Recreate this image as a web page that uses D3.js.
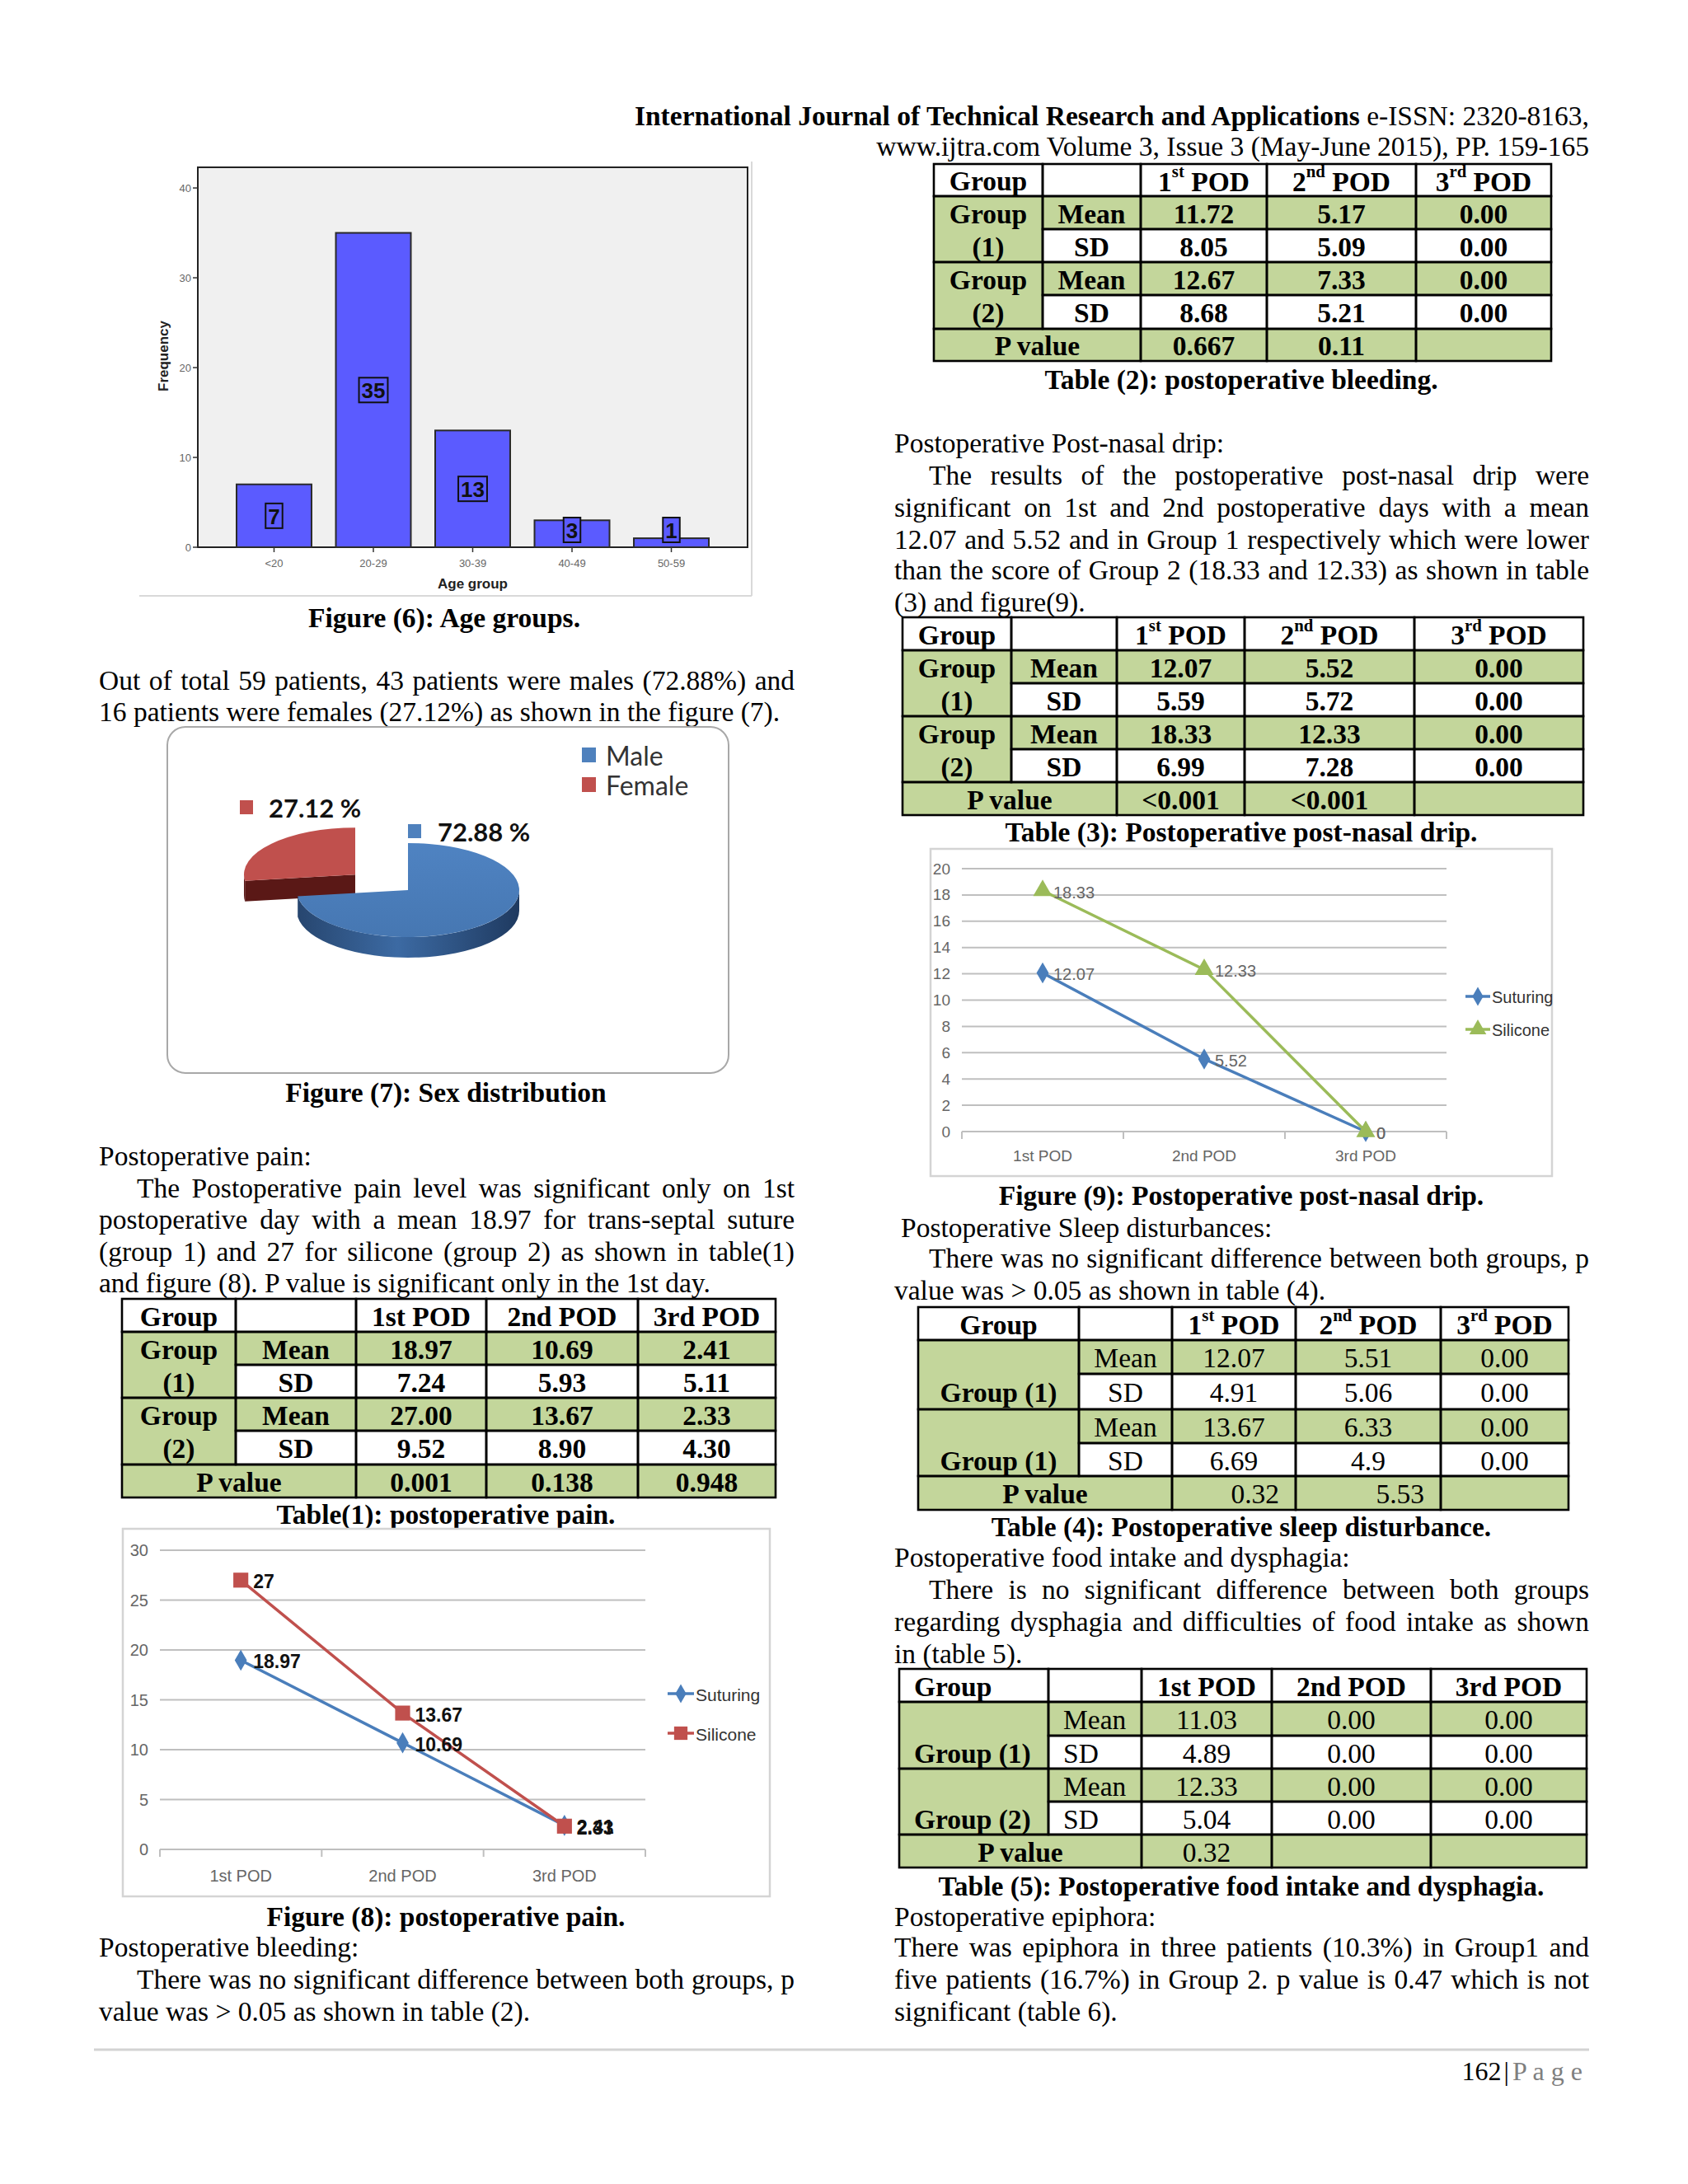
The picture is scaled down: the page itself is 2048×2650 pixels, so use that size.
<!DOCTYPE html>
<html><head><meta charset="utf-8">
<script src="https://cdn.jsdelivr.net/npm/d3@7/dist/d3.min.js"></script>
<style>html,body{margin:0;padding:0;background:#fff;}svg{display:block;}</style>
</head><body>
<svg id="page" width="2048" height="2650"></svg>
<script>
// ---------------- DATA ----------------
const ageGroups = ["<20", "20-29", "30-39", "40-49", "50-59"];
const ageFrequency = [7, 35, 13, 3, 1];
const frequencyTicks = [0, 10, 20, 30, 40];

const sexCategories = ["Male", "Female"];
const sexPercent = [72.88, 27.12];

const podCategories = ["1st POD", "2nd POD", "3rd POD"];
const seriesNames = ["Suturing", "Silicone"];
const painSuturing = [18.97, 10.69, 2.41];
const painSilicone = [27, 13.67, 2.33];
const painTicks = [0, 5, 10, 15, 20, 25, 30];
const dripSuturing = [12.07, 5.52, 0];
const dripSilicone = [18.33, 12.33, 0];
const dripTicks = [0, 2, 4, 6, 8, 10, 12, 14, 16, 18, 20];

const groupNumbers = ["(1)", "(2)"];
const statLabels = ["Mean", "SD"];
const podPlainHeaders = ["1st POD", "2nd POD", "3rd POD"];
const podSupHeaders = [["1", "st"], ["2", "nd"], ["3", "rd"]];

const painMean1 = ["18.97", "10.69", "2.41"], painSD1 = ["7.24", "5.93", "5.11"];
const painMean2 = ["27.00", "13.67", "2.33"], painSD2 = ["9.52", "8.90", "4.30"];
const painP = ["0.001", "0.138", "0.948"];
const bleedMean1 = ["11.72", "5.17", "0.00"], bleedSD1 = ["8.05", "5.09", "0.00"];
const bleedMean2 = ["12.67", "7.33", "0.00"], bleedSD2 = ["8.68", "5.21", "0.00"];
const bleedP = ["0.667", "0.11", ""];
const dripMean1 = ["12.07", "5.52", "0.00"], dripSD1 = ["5.59", "5.72", "0.00"];
const dripMean2 = ["18.33", "12.33", "0.00"], dripSD2 = ["6.99", "7.28", "0.00"];
const dripP = ["<0.001", "<0.001", ""];
const sleepGroups = ["Group (1)", "Group (1)"];
const sleepMean1 = ["12.07", "5.51", "0.00"], sleepSD1 = ["4.91", "5.06", "0.00"];
const sleepMean2 = ["13.67", "6.33", "0.00"], sleepSD2 = ["6.69", "4.9", "0.00"];
const sleepP = ["0.32", "5.53", ""];
const foodGroups = ["Group (1)", "Group (2)"];
const foodMean1 = ["11.03", "0.00", "0.00"], foodSD1 = ["4.89", "0.00", "0.00"];
const foodMean2 = ["12.33", "0.00", "0.00"], foodSD2 = ["5.04", "0.00", "0.00"];
const foodP = ["0.32", "", ""];

// ---------------- SETUP ----------------
const svg = d3.select("#page");
svg.append("rect").attr("width", 2048).attr("height", 2650).attr("fill", "#fff");
const SERIF = "'Liberation Serif','Times New Roman',serif";
const SANS = "'Liberation Sans',Arial,sans-serif";
const NARROW = "'Liberation Sans Narrow','Liberation Sans',Arial,sans-serif";
const CAL = "Lato,'Open Sans',sans-serif";
const FS = 33.5;
const GREEN = "#c3d69b";
const WHITE = "#ffffff";

function addText(parent, x, y, content, o = {}) {
  const size = o.size || FS;
  const t = parent.append("text")
    .attr("x", x).attr("y", y)
    .attr("font-family", o.family || SERIF)
    .attr("font-size", size)
    .attr("font-weight", o.bold ? "bold" : "normal")
    .attr("fill", o.fill || "#000")
    .attr("text-anchor", o.anchor || "start")
    .attr("dominant-baseline", "central");
  if (Array.isArray(content)) {
    content.forEach(p => {
      const s = t.append("tspan").text(p.t);
      if (p.sup) s.attr("font-size", size * 0.62).attr("dy", -size * 0.36);
      if (p.after) s.attr("dy", size * 0.36);
      if (p.fill) s.attr("fill", p.fill);
      if (p.bold !== undefined) s.attr("font-weight", p.bold ? "bold" : "normal");
      if (p.dx) s.attr("dx", p.dx);
    });
  } else {
    t.text(content);
  }
  if (o.justify && typeof content === "string") {
    const L = t.node().getComputedTextLength();
    const n = (content.match(/ /g) || []).length;
    if (n) t.attr("word-spacing", ((o.justify - x) - L) / n);
  }
  return t;
}

// ---------------- HEADER ----------------
addText(svg, 1928, 140, [
  {t: "International Journal of Technical Research and Applications", bold: true},
  {t: " e-ISSN: 2320-8163,", bold: false}
], {anchor: "end"});
addText(svg, 1928, 177, "www.ijtra.com Volume 3, Issue 3 (May-June 2015), PP. 159-165", {anchor: "end"});

// ---------------- BODY TEXT ----------------
const LR = 964, RR = 1928;
const bodyLines = [
  [120, 825, "Out of total 59 patients, 43 patients were males (72.88%) and", LR],
  [120, 863, "16 patients were females (27.12%) as shown in the figure (7).", 0],
  [120, 1402, "Postoperative pain:", 0],
  [166, 1441, "The Postoperative pain level was significant only on 1st", LR],
  [120, 1479, "postoperative day with a mean 18.97 for trans-septal suture", LR],
  [120, 1518, "(group 1) and 27 for silicone (group 2) as shown in table(1)", LR],
  [120, 1556, "and figure (8). P value is significant only in the 1st day.", 0],
  [120, 2362, "Postoperative bleeding:", 0],
  [166, 2401, "There was no significant difference between both groups, p", LR],
  [120, 2440, "value was > 0.05 as shown in table (2).", 0],
  [1085, 537, "Postoperative Post-nasal drip:", 0],
  [1127, 576, "The results of the postoperative post-nasal drip were", RR],
  [1085, 615, "significant on 1st and 2nd postoperative days with a mean", RR],
  [1085, 654, "12.07 and 5.52 and in Group 1 respectively which were lower", RR],
  [1085, 691, "than the score of Group 2 (18.33 and 12.33) as shown in table", RR],
  [1085, 730, "(3) and figure(9).", 0],
  [1093, 1489, "Postoperative Sleep disturbances:", 0],
  [1127, 1526, "There was no significant difference between both groups, p", RR],
  [1085, 1565, "value was > 0.05 as shown in table (4).", 0],
  [1085, 1889, "Postoperative food intake and dysphagia:", 0],
  [1127, 1928, "There is no significant difference between both groups", RR],
  [1085, 1967, "regarding dysphagia and difficulties of food intake as shown", RR],
  [1085, 2006, "in (table 5).", 0],
  [1085, 2325, "Postoperative epiphora:", 0],
  [1085, 2362, "There was epiphora in three patients (10.3%) in Group1 and", RR],
  [1085, 2401, "five patients (16.7%) in Group 2. p value is 0.47 which is not", RR],
  [1085, 2440, "significant (table 6).", 0]
];
bodyLines.forEach(([x, y, s, j]) => addText(svg, x, y, s, {justify: j || null}));

const captions = [
  [539, 749, "Figure (6): Age groups."],
  [541, 1325, "Figure (7): Sex distribution"],
  [541, 1837, "Table(1): postoperative pain."],
  [541, 2325, "Figure (8): postoperative pain."],
  [1506, 460, "Table (2): postoperative bleeding."],
  [1506, 1009, "Table (3): Postoperative post-nasal drip."],
  [1506, 1450, "Figure (9): Postoperative post-nasal drip."],
  [1506, 1852, "Table (4): Postoperative sleep disturbance."],
  [1506, 2288, "Table (5): Postoperative food intake and dysphagia."]
];
captions.forEach(([x, y, s]) => addText(svg, x, y, s, {bold: true, anchor: "middle"}));

// ---------------- FOOTER ----------------
svg.append("line").attr("x1", 114).attr("x2", 1928).attr("y1", 2487).attr("y2", 2487)
  .attr("stroke", "#d3d3d3").attr("stroke-width", 3);
addText(svg, 1920, 2513, [
  {t: "162"}, {t: "|", dx: 3}, {t: "P a g e", fill: "#7f7f7f", dx: 4}
], {anchor: "end", size: 32});

// ---------------- FIGURE 6: BAR CHART ----------------
(function () {
  const g = svg.append("g");
  g.append("line").attr("x1", 169).attr("x2", 912).attr("y1", 723).attr("y2", 723).attr("stroke", "#d9d9d9").attr("stroke-width", 2);
  g.append("line").attr("x1", 912).attr("x2", 912).attr("y1", 196).attr("y2", 723).attr("stroke", "#d9d9d9").attr("stroke-width", 2);
  const X0 = 240, X1 = 907, Y0 = 664, Y1 = 203;
  g.append("rect").attr("x", X0).attr("y", Y1).attr("width", X1 - X0).attr("height", Y0 - Y1)
    .attr("fill", "#f0f0f0").attr("stroke", "#222").attr("stroke-width", 2);
  const x = d3.scaleBand().domain(ageGroups).range([X0, X1]).paddingInner(0.245).paddingOuter(0.39);
  const y = d3.scaleLinear().domain([0, 42.3]).range([Y0, Y1]);
  g.selectAll(".yt").data(frequencyTicks).join("line")
    .attr("x1", X0 - 6).attr("x2", X0).attr("y1", d => y(d)).attr("y2", d => y(d)).attr("stroke", "#333").attr("stroke-width", 1.5);
  g.selectAll(".yl").data(frequencyTicks).join("text")
    .attr("x", X0 - 8).attr("y", d => y(d)).attr("text-anchor", "end").attr("dominant-baseline", "central")
    .attr("font-family", SANS).attr("font-size", 13).attr("fill", "#666").text(d => d);
  g.selectAll(".bar").data(ageFrequency).join("rect")
    .attr("x", (d, i) => x(ageGroups[i])).attr("width", x.bandwidth())
    .attr("y", d => y(d)).attr("height", d => y(0) - y(d))
    .attr("fill", "#5b5bff").attr("stroke", "#2a2a2a").attr("stroke-width", 2);
  g.selectAll(".xt").data(ageGroups).join("line")
    .attr("x1", d => x(d) + x.bandwidth() / 2).attr("x2", d => x(d) + x.bandwidth() / 2)
    .attr("y1", Y0).attr("y2", Y0 + 6).attr("stroke", "#333").attr("stroke-width", 1.5);
  g.selectAll(".xl").data(ageGroups).join("text")
    .attr("x", d => x(d) + x.bandwidth() / 2).attr("y", Y0 + 19).attr("text-anchor", "middle")
    .attr("dominant-baseline", "central").attr("font-family", SANS).attr("font-size", 13).attr("fill", "#666").text(d => d);
  ageFrequency.forEach((v, i) => {
    const cx = x(ageGroups[i]) + x.bandwidth() / 2;
    const cy = Math.min(y(v / 2), y(0) - 21);
    const box = g.append("rect");
    const t = g.append("text").attr("x", cx).attr("y", cy + 1).attr("text-anchor", "middle").attr("dominant-baseline", "central")
      .attr("font-family", SANS).attr("font-weight", "bold").attr("font-size", 26).attr("fill", "#111").text(v);
    const w = t.node().getComputedTextLength() + 6;
    box.attr("x", cx - w / 2).attr("y", cy - 15).attr("width", w).attr("height", 30)
      .attr("fill", "#5b5bff").attr("stroke", "#111").attr("stroke-width", 2);
  });
  g.append("text").attr("transform", "translate(198,432) rotate(-90)").attr("text-anchor", "middle")
    .attr("dominant-baseline", "central").attr("font-family", SANS).attr("font-weight", "bold").attr("font-size", 17)
    .attr("fill", "#222").text("Frequency");
  g.append("text").attr("x", (X0 + X1) / 2).attr("y", 708).attr("text-anchor", "middle")
    .attr("dominant-baseline", "central").attr("font-family", SANS).attr("font-weight", "bold").attr("font-size", 17)
    .attr("fill", "#222").text("Age group");
})();

// ---------------- FIGURE 7: 3D PIE ----------------
(function () {
  const g = svg.append("g");
  g.append("rect").attr("x", 203).attr("y", 882).attr("width", 681).attr("height", 420).attr("rx", 22)
    .attr("fill", "#fff").attr("stroke", "#a8a8a8").attr("stroke-width", 2);
  const defs = svg.append("defs");
  const gm = defs.append("linearGradient").attr("id", "maleSide").attr("x1", "0").attr("x2", "1").attr("y1", "0").attr("y2", "0");
  [["0%", "#27466f"], ["45%", "#3c6aa3"], ["100%", "#1f3a60"]].forEach(([o, c]) => gm.append("stop").attr("offset", o).attr("stop-color", c));
  const gt = defs.append("linearGradient").attr("id", "maleTop").attr("x1", "0").attr("x2", "0").attr("y1", "0").attr("y2", "1");
  [["0%", "#4f83c2"], ["100%", "#4677b2"]].forEach(([o, c]) => gt.append("stop").attr("offset", o).attr("stop-color", c));

  const P = {cx: 495, cy: 1080, rx: 135, ry: 57, depth: 25, explodeX: 0.63, explodeY: 0.5};
  const arcs = d3.pie().sort(null).value(d => d)(sexPercent);
  const colors = {
    Male: {top: "url(#maleTop)", side: "url(#maleSide)", cut: "#2b4c78"},
    Female: {top: "#c0504d", side: "#5c1a19", cut: "#5a1816"}
  };
  const explodeIdx = 1;
  function pt(c, a, dz) { return [c[0] + P.rx * Math.sin(a), c[1] - P.ry * Math.cos(a) + (dz || 0)]; }
  const slices = arcs.map((a, i) => {
    let c = [P.cx, P.cy];
    if (i === explodeIdx) {
      const m = (a.startAngle + a.endAngle) / 2;
      c = [P.cx + P.explodeX * P.rx * Math.sin(m), P.cy - P.explodeY * P.ry * Math.cos(m)];
    }
    return {a, c, name: sexCategories[i]};
  });
  slices.slice().reverse().forEach(s => {
    const {a, c, name} = s;
    const a0 = a.startAngle, a1 = a.endAngle, d = P.depth;
    const col = colors[name];
    if (Math.sin(a0) < -1e-6) {
      const p = pt(c, a0);
      g.append("path").attr("d", `M${c[0]},${c[1]}L${p[0]},${p[1]}L${p[0]},${p[1] + d}L${c[0]},${c[1] + d}Z`).attr("fill", col.cut);
    }
    if (Math.sin(a1) > 1e-6) {
      const p = pt(c, a1);
      g.append("path").attr("d", `M${c[0]},${c[1]}L${p[0]},${p[1]}L${p[0]},${p[1] + d}L${c[0]},${c[1] + d}Z`).attr("fill", col.cut);
    }
    const s0 = Math.max(a0, Math.PI / 2), s1 = Math.min(a1, 3 * Math.PI / 2);
    if (s1 > s0) {
      const p0 = pt(c, s0), p1 = pt(c, s1);
      g.append("path").attr("d",
        `M${p0[0]},${p0[1]}A${P.rx},${P.ry} 0 0 1 ${p1[0]},${p1[1]}L${p1[0]},${p1[1] + d}A${P.rx},${P.ry} 0 0 0 ${p0[0]},${p0[1] + d}Z`)
        .attr("fill", col.side);
    }
    const q0 = pt(c, a0), q1 = pt(c, a1);
    const large = (a1 - a0) > Math.PI ? 1 : 0;
    g.append("path").attr("d", `M${c[0]},${c[1]}L${q0[0]},${q0[1]}A${P.rx},${P.ry} 0 ${large} 1 ${q1[0]},${q1[1]}Z`)
      .attr("fill", col.top);
  });
  const lab = [
    {i: 1, sq: [291, 971], tx: 326, ty: 980},
    {i: 0, sq: [495, 1000], tx: 531, ty: 1009}
  ];
  const sqCol = ["#4f81bd", "#c0504d"];
  lab.forEach(l => {
    g.append("rect").attr("x", l.sq[0]).attr("y", l.sq[1]).attr("width", 16).attr("height", 17).attr("fill", sqCol[l.i]);
    g.append("text").attr("x", l.tx).attr("y", l.ty).attr("dominant-baseline", "central").attr("font-family", CAL)
      .attr("font-weight", "bold").attr("font-size", 31).attr("fill", "#111").text(sexPercent[l.i].toFixed(2) + " %");
  });
  sexCategories.forEach((n, i) => {
    const yy = 916 + i * 36;
    g.append("rect").attr("x", 706).attr("y", yy - 9).attr("width", 17).attr("height", 18).attr("fill", sqCol[i]);
    g.append("text").attr("x", 735).attr("y", yy).attr("dominant-baseline", "central").attr("font-family", CAL)
      .attr("font-size", 32).attr("fill", "#333").text(n);
  });
})();

// ---------------- LINE CHARTS ----------------
function lineChart(cfg) {
  const g = svg.append("g");
  g.append("rect").attr("x", cfg.box[0]).attr("y", cfg.box[1]).attr("width", cfg.box[2] - cfg.box[0]).attr("height", cfg.box[3] - cfg.box[1])
    .attr("fill", "#fff").attr("stroke", "#d4d4d4").attr("stroke-width", 2.5);
  const x = d3.scaleBand().domain(podCategories).range([cfg.x0, cfg.x1]);
  const y = d3.scaleLinear().domain([0, cfg.ymax]).range([cfg.yb, cfg.yt]);
  g.selectAll(".grid").data(cfg.ticks).join("line")
    .attr("x1", cfg.x0).attr("x2", cfg.x1).attr("y1", d => y(d)).attr("y2", d => y(d))
    .attr("stroke", "#bfbfbf").attr("stroke-width", 2);
  g.selectAll(".yl").data(cfg.ticks).join("text")
    .attr("x", cfg.x0 - 14).attr("y", d => y(d)).attr("text-anchor", "end").attr("dominant-baseline", "central")
    .attr("font-family", NARROW).attr("font-size", cfg.fs).attr("fill", "#666").text(d => d);
  const edges = podCategories.map(c => x(c)).concat([cfg.x1]);
  g.selectAll(".xt").data(edges).join("line")
    .attr("x1", d => d).attr("x2", d => d).attr("y1", y(0)).attr("y2", y(0) + 9)
    .attr("stroke", "#bfbfbf").attr("stroke-width", 2);
  g.selectAll(".xl").data(podCategories).join("text")
    .attr("x", d => x(d) + x.bandwidth() / 2).attr("y", cfg.catY).attr("text-anchor", "middle").attr("dominant-baseline", "central")
    .attr("font-family", NARROW).attr("font-size", cfg.fs).attr("fill", "#666").text(d => d);
  const cx = i => x(podCategories[i]) + x.bandwidth() / 2;
  const line = d3.line().x((d, i) => cx(i)).y(d => y(d));
  cfg.series.forEach(s => {
    g.append("path").datum(s.values).attr("d", line).attr("fill", "none").attr("stroke", s.color).attr("stroke-width", 3.5);
  });
  cfg.series.forEach(s => {
    g.selectAll(null).data(s.values).join("path")
      .attr("transform", (d, i) => `translate(${cx(i)},${y(d)})`)
      .attr("d", d3.symbol(s.symbol, s.size)).attr("fill", s.color);
  });
  cfg.series.forEach(s => {
    g.selectAll(null).data(s.values).join("text")
      .attr("x", (d, i) => cx(i) + cfg.labDx).attr("y", d => y(d) + 2).attr("dominant-baseline", "central")
      .attr("font-family", NARROW).attr("font-size", cfg.labFs).attr("font-weight", cfg.labBold ? "bold" : "normal")
      .attr("fill", cfg.labFill).text(d => d);
  });
  cfg.series.forEach((s, k) => {
    const ly = cfg.legY[k];
    g.append("line").attr("x1", cfg.legX[0]).attr("x2", cfg.legX[1]).attr("y1", ly).attr("y2", ly).attr("stroke", s.color).attr("stroke-width", 3.5);
    g.append("path").attr("transform", `translate(${(cfg.legX[0] + cfg.legX[1]) / 2},${ly})`).attr("d", d3.symbol(s.symbol, s.size * 0.8)).attr("fill", s.color);
    g.append("text").attr("x", cfg.legX[1] + 2).attr("y", ly + 1).attr("dominant-baseline", "central")
      .attr("font-family", NARROW).attr("font-size", cfg.fs + 1).attr("fill", "#333").text(seriesNames[k]);
  });
}

lineChart({
  box: [149, 1855, 934, 2301], x0: 194, x1: 783, yb: 2244, yt: 1881, ymax: 30, ticks: painTicks,
  catY: 2276, fs: 20, labDx: 15, labFs: 23, labBold: true, labFill: "#111",
  legX: [810, 842], legY: [2055, 2103],
  series: [
    {values: painSuturing, color: "#4a7ebb", symbol: d3.symbolDiamond, size: 190},
    {values: painSilicone, color: "#c0504d", symbol: d3.symbolSquare, size: 330}
  ]
});

lineChart({
  box: [1129, 1030, 1883, 1427], x0: 1167, x1: 1755, yb: 1373, yt: 1054, ymax: 20, ticks: dripTicks,
  catY: 1402, fs: 19, labDx: 13, labFs: 20, labBold: false, labFill: "#666",
  legX: [1778, 1808], legY: [1209, 1249],
  series: [
    {values: dripSuturing, color: "#4a7ebb", symbol: d3.symbolDiamond, size: 190},
    {values: dripSilicone, color: "#9bbb59", symbol: d3.symbolTriangle, size: 230}
  ]
});

// ---------------- TABLES ----------------
function drawTable(xs, ys, cells) {
  const g = svg.append("g");
  const geo = c => {
    const rs = c.rs || 1, cs = c.cs || 1;
    return [xs[c.c], xs[c.c + cs], ys[c.r], ys[c.r + rs]];
  };
  cells.forEach(c => {
    const [x0, x1, y0, y1] = geo(c);
    g.append("rect").attr("x", x0).attr("y", y0).attr("width", x1 - x0).attr("height", y1 - y0).attr("fill", c.fill);
  });
  cells.forEach(c => {
    const [x0, x1, y0, y1] = geo(c);
    g.append("rect").attr("x", x0).attr("y", y0).attr("width", x1 - x0).attr("height", y1 - y0)
      .attr("fill", "none").attr("stroke", "#000").attr("stroke-width", 2.6);
    (c.texts || []).forEach(t => {
      const yy = t.row !== undefined ? (ys[t.row] + ys[t.row + 1]) / 2 : (y0 + y1) / 2;
      let xx, anchor;
      if (t.align === "start") { xx = x0 + (t.pad || 18); anchor = "start"; }
      else if (t.align === "end") { xx = x1 - (t.pad || 20); anchor = "end"; }
      else { xx = (x0 + x1) / 2; anchor = "middle"; }
      addText(g, xx, yy + 1, t.content, {bold: t.bold, anchor});
    });
  });
}
const supParts = h => [{t: h[0]}, {t: h[1], sup: true}, {t: " POD", after: true}];

function tableA(xs, ys, headers, m1, s1, m2, s2, p) {
  const cells = [];
  cells.push({r: 0, c: 0, fill: WHITE, texts: [{content: "Group", bold: true}]});
  cells.push({r: 0, c: 1, fill: WHITE});
  headers.forEach((h, i) => cells.push({r: 0, c: 2 + i, fill: WHITE, texts: [{content: h, bold: true}]}));
  [[1, groupNumbers[0], m1, s1], [3, groupNumbers[1], m2, s2]].forEach(([r, lab, m, s]) => {
    cells.push({r, c: 0, rs: 2, fill: GREEN, texts: [{content: "Group", bold: true, row: r}, {content: lab, bold: true, row: r + 1}]});
    cells.push({r, c: 1, fill: GREEN, texts: [{content: statLabels[0], bold: true}]});
    cells.push({r: r + 1, c: 1, fill: WHITE, texts: [{content: statLabels[1], bold: true}]});
    m.forEach((v, i) => cells.push({r, c: 2 + i, fill: GREEN, texts: [{content: v, bold: true}]}));
    s.forEach((v, i) => cells.push({r: r + 1, c: 2 + i, fill: WHITE, texts: [{content: v, bold: true}]}));
  });
  cells.push({r: 5, c: 0, cs: 2, fill: GREEN, texts: [{content: "P value", bold: true}]});
  p.forEach((v, i) => cells.push({r: 5, c: 2 + i, fill: GREEN, texts: v ? [{content: v, bold: true}] : []}));
  drawTable(xs, ys, cells);
}

function tableB(xs, ys, headers, groups, m1, s1, m2, s2, p, o) {
  const cells = [];
  cells.push({r: 0, c: 0, fill: WHITE, texts: [{content: "Group", bold: true, align: o.groupAlign}]});
  cells.push({r: 0, c: 1, fill: WHITE});
  headers.forEach((h, i) => cells.push({r: 0, c: 2 + i, fill: WHITE, texts: [{content: h, bold: true}]}));
  [[1, groups[0], m1, s1], [3, groups[1], m2, s2]].forEach(([r, lab, m, s]) => {
    cells.push({r, c: 0, rs: 2, fill: GREEN, texts: [{content: lab, bold: true, row: r + 1, align: o.groupAlign}]});
    cells.push({r, c: 1, fill: GREEN, texts: [{content: statLabels[0], align: o.statAlign}]});
    cells.push({r: r + 1, c: 1, fill: WHITE, texts: [{content: statLabels[1], align: o.statAlign}]});
    m.forEach((v, i) => cells.push({r, c: 2 + i, fill: GREEN, texts: [{content: v}]}));
    s.forEach((v, i) => cells.push({r: r + 1, c: 2 + i, fill: WHITE, texts: [{content: v}]}));
  });
  cells.push({r: 5, c: 0, cs: 2, fill: GREEN, texts: [{content: "P value", bold: true}]});
  p.forEach((v, i) => cells.push({r: 5, c: 2 + i, fill: GREEN, texts: v ? [{content: v, align: o.pAlign}] : []}));
  drawTable(xs, ys, cells);
}

tableA([148, 286, 432, 590, 774, 941], [1576, 1616, 1656, 1696, 1736, 1777, 1817],
  podPlainHeaders, painMean1, painSD1, painMean2, painSD2, painP);
tableA([1133, 1265, 1384, 1537, 1718, 1882], [199, 238, 278, 318, 358, 399, 438],
  podSupHeaders.map(supParts), bleedMean1, bleedSD1, bleedMean2, bleedSD2, bleedP);
tableA([1095, 1227, 1355, 1510, 1716, 1921], [749, 789, 829, 869, 909, 949, 989],
  podSupHeaders.map(supParts), dripMean1, dripSD1, dripMean2, dripSD2, dripP);
tableB([1114, 1309, 1422, 1572, 1748, 1903], [1586, 1626, 1667, 1710, 1751, 1791, 1832],
  podSupHeaders.map(supParts), sleepGroups, sleepMean1, sleepSD1, sleepMean2, sleepSD2, sleepP,
  {groupAlign: "middle", statAlign: "middle", pAlign: "end"});
tableB([1091, 1272, 1385, 1543, 1736, 1925], [2025, 2065, 2106, 2146, 2186, 2226, 2266],
  podPlainHeaders, foodGroups, foodMean1, foodSD1, foodMean2, foodSD2, foodP,
  {groupAlign: "start", statAlign: "start", pAlign: "middle"});
</script>
</body></html>
